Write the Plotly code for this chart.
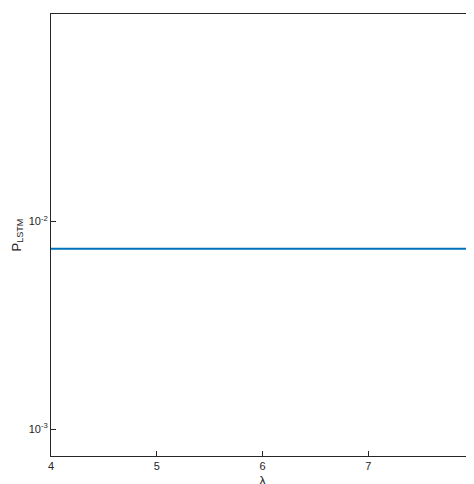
import plotly.graph_objects as go

lam = [4, 5, 6, 7, 8]
p_lstm = [0.0074, 0.0074, 0.0074, 0.0074, 0.0074]
xticks = [4, 5, 6, 7, 8]
yticks = [0.001, 0.01, 0.1]
ytext = ["10<sup>-3</sup>", "10<sup>-2</sup>", "10<sup>-1</sup>"]

fig = go.Figure(go.Scatter(x=lam, y=p_lstm, mode="lines",
                           line=dict(color="#0072BD", width=2)))
ax = dict(showline=True, linecolor="#262626", mirror=True, ticks="inside",
          ticklen=5, tickcolor="#262626", showgrid=False, zeroline=False,
          tickfont=dict(family="Liberation Sans, Arial", size=11, color="#262626"))
fig.update_xaxes(range=[4, 8], tickvals=xticks, title=dict(text="λ", standoff=4,
                 font=dict(size=13, color="#262626")), **ax)
fig.update_yaxes(type="log", range=[-3.13, -1], tickvals=yticks, ticktext=ytext,
                 title=dict(text="P<sub>LSTM</sub>", standoff=4,
                            font=dict(size=13, color="#262626")), **ax)
fig.update_layout(width=474, height=484, plot_bgcolor="white", paper_bgcolor="white",
                  margin=dict(l=43, r=6, t=5, b=36), showlegend=False,
                  font=dict(family="Liberation Sans, Arial"))
fig.write_html("out.html")
